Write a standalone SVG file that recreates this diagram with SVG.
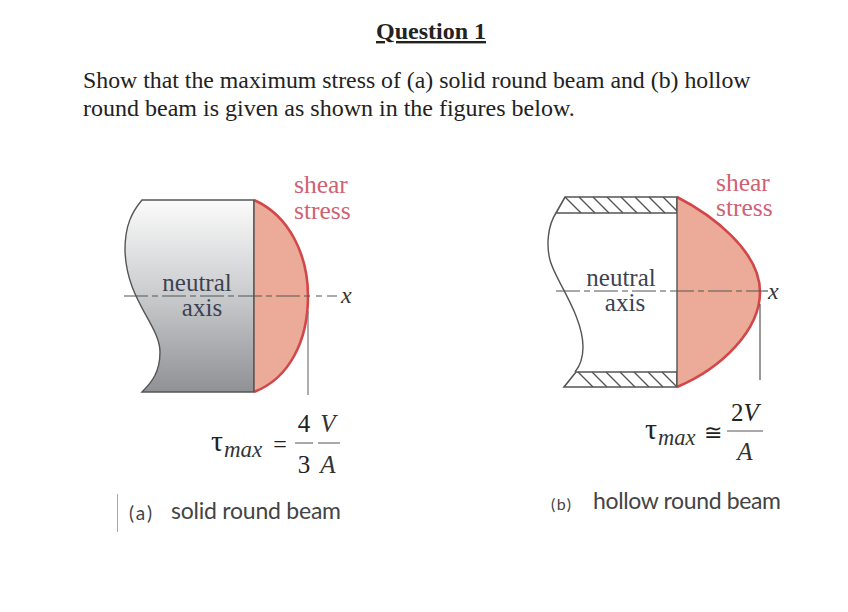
<svg xmlns="http://www.w3.org/2000/svg" width="848" height="612" viewBox="0 0 848 612">
<style>
.t{font-family:"Liberation Serif",serif;fill:#222}
.s{font-family:"Lato","Open Sans",sans-serif;fill:#444}
.r{font-family:"Liberation Serif",serif;fill:#cf6272;font-size:25.5px}
.n{font-family:"Liberation Serif",serif;fill:#3c4252;font-size:25px}
.i{font-family:"Liberation Serif",serif;font-style:italic;fill:#333}
.o{fill:none;stroke:#555;stroke-width:1.4}
.c{fill:#ecaa98;stroke:none}
.e{fill:none;stroke:#d2474a;stroke-width:2.6}
.d{fill:none;stroke:#555;stroke-width:1.2;stroke-dasharray:24 4 6 4}
</style>
<defs>
<linearGradient id="g" x1="0" y1="0" x2="0" y2="1"><stop offset="0" stop-color="#fbfbfb"/><stop offset="0.45" stop-color="#cfd0d2"/><stop offset="1" stop-color="#8f9195"/></linearGradient>
</defs>
<g id="title">
<text class="t" x="431" y="39" font-size="24" font-weight="bold" text-anchor="middle" fill="#111" text-decoration="underline">Question 1</text>
<text class="t" x="83" y="88" font-size="23.8">Show that the maximum stress of (a) solid round beam and (b) hollow</text>
<text class="t" x="83" y="116" font-size="24">round beam is given as shown in the figures below.</text>
</g>
<g id="beam-a">
<path d="M142 200H254V392H142C152 382 160 372 160 352C160 325 126 300 125 250C125 225 132 212 142 200Z" fill="url(#g)" stroke="#555" stroke-width="1.4"/>
<path class="c" d="M254 200C290 216 308 256 308 296C308 340 290 378 254 392Z"/>
<path class="e" d="M254 200C290 216 308 256 308 296C308 340 290 378 254 392"/>
<path d="M254 200V392" class="o"/>
<path d="M308 311V395" stroke="#777" stroke-width="1.2" fill="none"/>
<text class="n" x="197" y="291" text-anchor="middle">neutral</text>
<text class="n" x="202" y="316" text-anchor="middle">axis</text>
<text class="r" x="294" y="193">shear</text>
<text class="r" x="294" y="219">stress</text>
<text class="i" x="341" y="303" font-size="24">x</text>
</g>
<g id="beam-b">
<path d="M556 213C548 225 546 245 550 260C555 280 583 315 583 347C583 358 580 366 575 372" class="o"/>
<path d="M565 197H677V213H556Z" fill="#fff" stroke="#555" stroke-width="1.6"/>
<path d="M576 372H677V387H564Z" fill="#fff" stroke="#555" stroke-width="1.6"/>
<path class="o" stroke-width="1" d="M565 197L581 213M579 197L595 213M593 197L609 213M607 197L623 213M621 197L637 213M635 197L651 213M649 197L665 213M663 197L677 211M578 372L593 387M592 372L607 387M606 372L621 387M620 372L635 387M634 372L649 387M648 372L663 387M662 372L677 387"/>
<path class="c" d="M677 197C710 214 760 250 760 292C760 330 722 368 677 387Z"/>
<path class="e" d="M677 197C710 214 760 250 760 292C760 330 722 368 677 387"/>
<path d="M677 197V387" class="o"/>
<path d="M760 304V380" stroke="#555" stroke-width="1.2" fill="none"/>
<text class="n" x="621" y="286" text-anchor="middle">neutral</text>
<text class="n" x="625" y="311" text-anchor="middle">axis</text>
<text class="r" x="716" y="191">shear</text>
<text class="r" x="716" y="216">stress</text>
<text class="i" x="768" y="299" font-size="24">x</text>
</g>
<g id="connectors">
<path class="d" d="M124 296H312"/>
<path fill="none" stroke="#555" stroke-width="1.2" d="M316 296H322M327 296H337"/>
<path class="d" d="M556 291H768"/>
</g>
<g id="formula-a">
<text class="t" x="211" y="451" font-size="30">τ</text>
<text class="i" x="224" y="457" font-size="23">max</text>
<text class="t" x="280" y="452" font-size="24" text-anchor="middle">=</text>
<path d="M295 443H313M318 443H340" stroke="#555" stroke-width="1.2"/>
<text class="t" x="304" y="432" font-size="25" text-anchor="middle">4</text>
<text class="i" x="328" y="432" font-size="25" text-anchor="middle">V</text>
<text class="t" x="304" y="473" font-size="25" text-anchor="middle">3</text>
<text class="i" x="328" y="473" font-size="25" text-anchor="middle">A</text>
</g>
<g id="formula-b">
<text class="t" x="645" y="439" font-size="30">τ</text>
<text class="i" x="658" y="445" font-size="22.5">max</text>
<text class="t" x="713" y="440" font-size="22" text-anchor="middle">≅</text>
<path d="M727 431H763" stroke="#555" stroke-width="1.2"/>
<text class="t" x="745" y="421" font-size="25" text-anchor="middle">2<tspan font-style="italic">V</tspan></text>
<text class="i" x="745" y="460" font-size="25" text-anchor="middle">A</text>
</g>
<g id="caption-a">
<path d="M117.500 494V532" stroke="#aaa" stroke-width="1"/>
<text class="s" x="129" y="520" font-size="19" fill="#333" textLength="23">(a)</text>
<text class="s" x="171" y="519" font-size="23" textLength="170">solid round beam</text>
</g>
<g id="caption-b">
<text class="s" x="551" y="510" font-size="16" fill="#333" textLength="20">(b)</text>
<text class="s" x="593" y="509" font-size="23" textLength="188">hollow round beam</text>
</g>
</svg>
